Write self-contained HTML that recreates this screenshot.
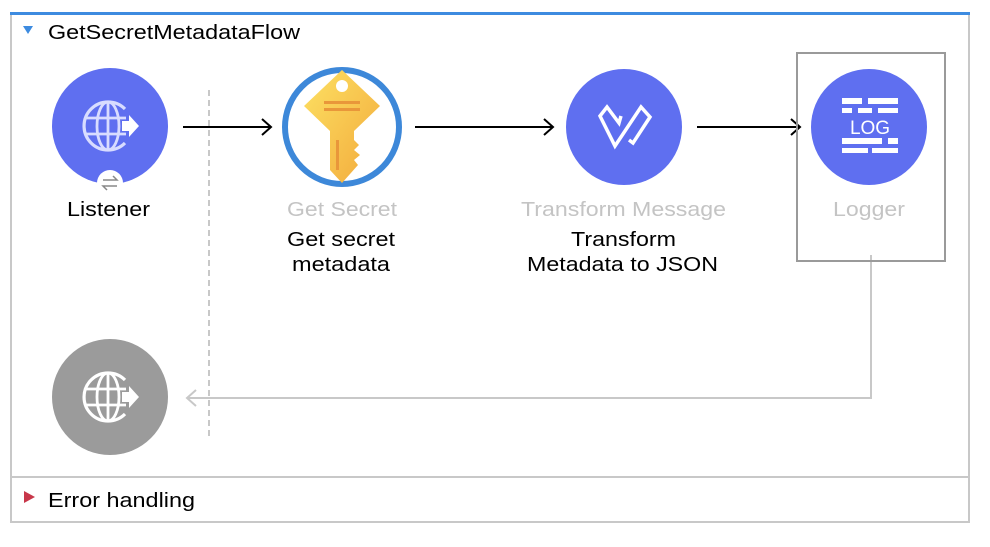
<!DOCTYPE html>
<html><head><meta charset="utf-8"><style>
html,body{margin:0;padding:0;background:#fff;}
body{width:990px;height:542px;overflow:hidden;font-family:"Liberation Sans",sans-serif;}
</style></head><body>
<svg width="990" height="542" viewBox="0 0 990 542" xmlns="http://www.w3.org/2000/svg" font-family="Liberation Sans, sans-serif">
<defs>
<linearGradient id="kg" x1="0" y1="0" x2="1" y2="1"><stop offset="0" stop-color="#fde163"/><stop offset="1" stop-color="#f2a93b"/></linearGradient>
<g id="globe">
 <path d="M17,-17 A24,24 0 1 0 17,17" fill="none" stroke-width="3.2"/>
 <ellipse cx="0" cy="0" rx="11" ry="24" fill="none" stroke-width="2.8"/>
 <line x1="0" y1="-24" x2="0" y2="24" stroke-width="2.8"/>
 <line x1="-23" y1="-8" x2="18" y2="-8" stroke-width="2.8"/>
 <line x1="-23" y1="8" x2="18" y2="8" stroke-width="2.8"/>
</g>
</defs>
<!-- frame -->
<rect x="11" y="13" width="958" height="509" fill="#fff" stroke="#c8c8c8" stroke-width="2"/>
<rect x="10" y="12" width="960" height="3" fill="#3d8be0"/>
<line x1="11" y1="477" x2="969" y2="477" stroke="#c8c8c8" stroke-width="2"/>
<polygon points="23,26 33,26 28,34" fill="#3d8be0"/>
<text x="48" y="39" font-size="20" fill="#000" textLength="252" lengthAdjust="spacingAndGlyphs">GetSecretMetadataFlow</text>
<polygon points="24,491 35,497 24,503" fill="#c8374a"/>
<text x="48" y="507" font-size="20" fill="#000" textLength="147" lengthAdjust="spacingAndGlyphs">Error handling</text>
<!-- dashed -->
<line x1="209" y1="90" x2="209" y2="436" stroke="#c8c8c8" stroke-width="2" stroke-dasharray="6,4"/>
<!-- arrows -->
<g stroke="#000" stroke-width="2" fill="none">
<line x1="183" y1="127" x2="270" y2="127"/><polyline points="262,119 271,127 262,135"/>
<line x1="415" y1="127" x2="552" y2="127"/><polyline points="544,119 553,127 544,135"/>
<line x1="697" y1="127" x2="799" y2="127"/><polyline points="791,119 800,127 791,135"/>
</g>
<polyline points="871,255 871,398 188,398" fill="none" stroke="#c8c8c8" stroke-width="2"/>
<polyline points="196,390 187,398 196,406" fill="none" stroke="#c8c8c8" stroke-width="2"/>
<!-- listener -->
<circle cx="110" cy="126" r="58" fill="#5f6ff0"/>
<g transform="translate(108,126)" stroke="#d8dcff"><use href="#globe"/></g>
<polygon points="122,121 129,121 129,115 139,126 129,137 129,131 122,131" fill="#fff"/>
<circle cx="110" cy="183" r="13" fill="#fff"/>
<g stroke="#888" stroke-width="1.5" fill="none"><polyline points="103,180 117,180 113,176"/><polyline points="117,186 103,186 107,190"/></g>
<text x="67" y="216" font-size="20" fill="#000" textLength="83" lengthAdjust="spacingAndGlyphs">Listener</text>
<!-- key -->
<circle cx="342" cy="127" r="57" fill="#fff" stroke="#3d88d9" stroke-width="6"/>
<path d="M342,70 L380,106 L354,131 L354,140 L359,145 L354,150 L360,155 L354,160 L358,165 L342,183 L330,170 L330,131 L304,106 Z" fill="url(#kg)"/>
<circle cx="342" cy="86" r="6" fill="#fff"/>
<rect x="324" y="101" width="36" height="3" fill="#e9973a"/><rect x="324" y="108" width="36" height="3" fill="#e9973a"/>
<rect x="336" y="140" width="3" height="30" fill="#e9973a"/>
<text x="287" y="216" font-size="20" fill="#c4c4c4" textLength="110" lengthAdjust="spacingAndGlyphs">Get Secret</text>
<text x="287" y="246" font-size="20" fill="#000" textLength="108" lengthAdjust="spacingAndGlyphs">Get secret</text>
<text x="292" y="271" font-size="20" fill="#000" textLength="98" lengthAdjust="spacingAndGlyphs">metadata</text>
<!-- transform -->
<circle cx="624" cy="127" r="58" fill="#5f6ff0"/>
<g fill="none" stroke="#fff" stroke-width="3.5" stroke-linejoin="miter">
<polyline points="621,116 619,123 607,107 600,116 615,146 641,107 650,117 633,143 629,140"/>
</g>
<text x="521" y="216" font-size="20" fill="#c4c4c4" textLength="205" lengthAdjust="spacingAndGlyphs">Transform Message</text>
<text x="571" y="246" font-size="20" fill="#000" textLength="105" lengthAdjust="spacingAndGlyphs">Transform</text>
<text x="527" y="271" font-size="20" fill="#000" textLength="191" lengthAdjust="spacingAndGlyphs">Metadata to JSON</text>
<!-- logger -->
<rect x="797" y="53" width="148" height="208" fill="none" stroke="#9a9a9a" stroke-width="2"/>
<circle cx="869" cy="127" r="58" fill="#5f6ff0"/>
<g fill="#fff">
<rect x="842" y="98" width="20" height="6"/><rect x="868" y="98" width="30" height="6"/>
<rect x="842" y="108" width="10" height="5"/><rect x="858" y="108" width="14" height="5"/><rect x="878" y="108" width="20" height="5"/>
<rect x="842" y="138" width="40" height="6"/><rect x="888" y="138" width="10" height="6"/>
<rect x="842" y="148" width="26" height="5"/><rect x="872" y="148" width="26" height="5"/>
</g>
<text x="870" y="134" font-size="19" text-anchor="middle" fill="#fff">LOG</text>
<text x="833" y="216" font-size="20" fill="#c4c4c4" textLength="72" lengthAdjust="spacingAndGlyphs">Logger</text>
<!-- bottom globe -->
<circle cx="110" cy="397" r="58" fill="#9b9b9b"/>
<g transform="translate(108,397)" stroke="#fff"><use href="#globe"/></g>
<polygon points="122,392 129,392 129,386 139,397 129,408 129,402 122,402" fill="#fff"/>
</svg>
</body></html>
